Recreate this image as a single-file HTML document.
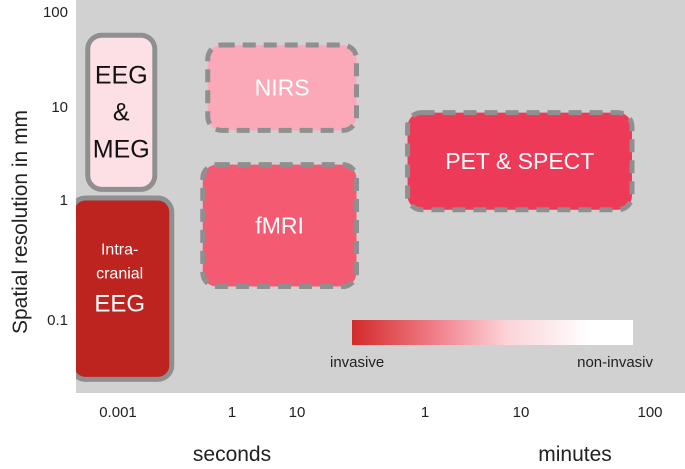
<!DOCTYPE html>
<html><head><meta charset="utf-8">
<style>
body{margin:0;background:#fff;}
svg{display:block;font-family:"Liberation Sans",sans-serif;}
</style></head>
<body>
<svg id="chart" width="685" height="469" viewBox="0 0 685 469">
<defs>
<linearGradient id="grad" x1="0" x2="1" y1="0" y2="0">
<stop offset="0" stop-color="#d42a2a"/>
<stop offset="0.3" stop-color="#f07f8a"/>
<stop offset="0.55" stop-color="#fbd3d8"/>
<stop offset="0.85" stop-color="#ffffff"/>
<stop offset="1" stop-color="#ffffff"/>
</linearGradient>
<clipPath id="panelClip"><rect x="76" y="0" width="609" height="393"/></clipPath>
</defs>
<rect x="76" y="0" width="609" height="393" fill="#d1d1d1"/>
<g id="boxes" clip-path="url(#panelClip)"></g>
<g id="ticks"></g>
<rect x="352" y="320" width="281" height="25" fill="url(#grad)"/>
<text x="330" y="367" font-size="15" fill="#222">invasive</text>
<text x="653" y="367" font-size="15" fill="#222" text-anchor="end">non-invasiv</text>
<text x="232" y="461" font-size="21" fill="#222" text-anchor="middle">seconds</text>
<text x="575" y="461" font-size="21" fill="#222" text-anchor="middle">minutes</text>
<text transform="translate(27,222) rotate(-90)" font-size="21" fill="#222" text-anchor="middle">Spatial resolution in mm</text>
</svg>
<script>
// x ticks (time in seconds) and labels
const xTickSeconds = [0.001, 1, 10, 60, 600, 6000];
const xTickLabels = ["0.001", "1", "10", "1", "10", "100"];
// y ticks (mm)
const yTickValues = [100, 10, 1, 0.1];
const yTickLabels = ["100", "10", "1", "0.1"];
// methods: time range (s), spatial range (mm)
const methodNames = ["Intracranial EEG", "EEG & MEG", "NIRS", "fMRI", "PET & SPECT"];
const timeMin = [0.00006, 0.00016, 0.23, 0.17, 47];
const timeMax = [0.026, 0.0093, 23, 23, 4350];
const resMin = [0.032, 1.3, 5.6, 0.19, 0.83];
const resMax = [1.05, 57, 45, 2.4, 8.7];

const xPix = [118, 232, 297, 425, 521, 650];
const yPix = [12, 107, 200, 320];
function interp(v, keys, pix){
  for(let i=0;i<keys.length-1;i++){
    if(v<=keys[i+1]||i===keys.length-2){
      return pix[i]+(v-keys[i])/(keys[i+1]-keys[i])*(pix[i+1]-pix[i]);
    }
  }
}
function xScale(s){ return interp(Math.log10(s), xTickSeconds.map(Math.log10), xPix); }
function yScale(mm){ return interp(-Math.log10(mm), yTickValues.map(v=>-Math.log10(v)), yPix); }

const NS="http://www.w3.org/2000/svg";
const fills=["#bd2420","#fde0e5","#fba9b8","#f45b73","#ec3a58"];
const dashed=[false,false,true,true,true];
const textCol=["#fff","#111","#fff","#fff","#fff"];
const g=document.getElementById("boxes");
methodNames.forEach((n,i)=>{
  const x0=xScale(timeMin[i]), x1=xScale(timeMax[i]);
  const y0=yScale(resMax[i]), y1=yScale(resMin[i]);
  const r=document.createElementNS(NS,"rect");
  r.setAttribute("x",x0);r.setAttribute("y",y0);
  r.setAttribute("width",x1-x0);r.setAttribute("height",y1-y0);
  r.setAttribute("rx",14);
  r.setAttribute("fill",fills[i]);r.setAttribute("stroke","#8f8f8f");
  r.setAttribute("stroke-width",5);
  if(dashed[i]) r.setAttribute("stroke-dasharray","13 8");
  
  
  g.appendChild(r);
  const cx=(x0+x1)/2, cy=(y0+y1)/2;
  let lines;
  if(i===0){lines=[["Intra-",16],["cranial",16],["EEG",24]];}
  else if(i===1){lines=[["EEG",25],["&",25],["MEG",25]];}
  else lines=[[n,23]];
  const lh = i===0?[-42,-18,15]:(i===1?[-37,0,37]:[0]);
  lines.forEach((l,k)=>{
    const t=document.createElementNS(NS,"text");
    t.setAttribute("x",i===0?cx-2:cx);t.setAttribute("y",cy+lh[k]+8);
    t.setAttribute("font-size",l[1]);t.setAttribute("fill",textCol[i]);
    t.setAttribute("text-anchor","middle");
    t.textContent=l[0];
    
    
    g.appendChild(t);
  });
});
const tg=document.getElementById("ticks");
xTickSeconds.forEach((s,i)=>{
  const t=document.createElementNS(NS,"text");
  t.setAttribute("x",xScale(s));t.setAttribute("y",417);
  t.setAttribute("font-size",15);t.setAttribute("fill","#222");t.setAttribute("text-anchor","middle");
  t.textContent=xTickLabels[i];
  
  
  tg.appendChild(t);
});
yTickValues.forEach((v,i)=>{
  const t=document.createElementNS(NS,"text");
  t.setAttribute("x",68);t.setAttribute("y",yScale(v)+5);
  t.setAttribute("font-size",15);t.setAttribute("fill","#222");t.setAttribute("text-anchor","end");
  t.textContent=yTickLabels[i];
  
  
  tg.appendChild(t);
});
</script>
</body></html>
